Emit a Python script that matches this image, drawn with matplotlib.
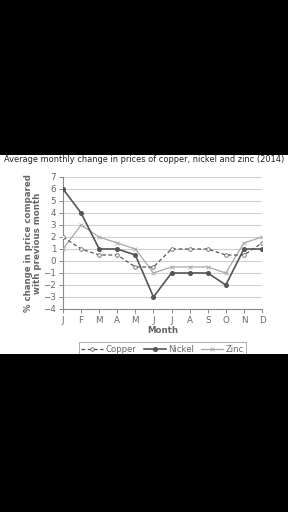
import matplotlib
matplotlib.use("Agg")
import matplotlib.pyplot as plt
from matplotlib.patches import Rectangle

months = ["J", "F", "M", "A", "M", "J", "J", "A", "S", "O", "N", "D"]
copper = [2, 1, 0.5, 0.5, -0.5, -0.5, 1, 1, 1, 0.5, 0.5, 1.5]
nickel = [6, 4, 1, 1, 0.5, -3, -1, -1, -1, -2, 1, 1]
zinc = [1, 3, 2, 1.5, 1, -1, -0.5, -0.5, -0.5, -1, 1.5, 2]
yticks = list(range(-4, 8))

W, H = 288, 512
fig = plt.figure(figsize=(W / 100, H / 100), dpi=100)
fig.patch.set_facecolor("white")

ax = fig.add_axes([63 / W, 1 - 309 / H, 199 / W, 132 / H])
x = list(range(len(months)))
tc = "#666666"

ax.plot(x, zinc, color="#a8a8a8", lw=0.9, marker="x", ms=2.5, mew=0.6, label="Zinc", zorder=3)
ax.plot(x, copper, color="#555555", lw=0.9, ls=(0, (3, 2)), marker="o", ms=2.6, mfc="white",
        mec="#666666", mew=0.6, label="Copper", zorder=4)
ax.plot(x, nickel, color="#555555", lw=1.2, marker="o", ms=2.6, mfc="#555555", mec="#555555",
        label="Nickel", zorder=5)

ax.set_xlim(0, 11)
ax.set_ylim(-4, 7)
ax.set_yticks(yticks)
ax.set_yticklabels([str(v) if v >= 0 else "\u2212" + str(-v) for v in yticks])
ax.set_xticks(x)
ax.set_xticklabels(months)
ax.grid(axis="y", color="#cfcfcf", lw=0.8)
ax.set_axisbelow(True)
for s in ["top", "right"]:
    ax.spines[s].set_visible(False)
for s in ["left", "bottom"]:
    ax.spines[s].set_color("#888888")
    ax.spines[s].set_linewidth(0.8)
ax.tick_params(colors="#888888", labelcolor=tc, labelsize=6.3, length=3, width=0.7, pad=2)

ax.set_ylabel("% change in price compared\nwith previous month", fontsize=6.2, fontweight="bold",
              color=tc, labelpad=1, linespacing=1.0)
ax.set_xlabel("Month", fontsize=6.2, fontweight="bold", color=tc, labelpad=1)

handles, labels = ax.get_legend_handles_labels()
order = [1, 2, 0]
leg = fig.legend([handles[i] for i in order], [labels[i] for i in order], loc="center",
                 bbox_to_anchor=(162.5 / W, 1 - 349 / H), ncol=3, fontsize=6.1,
                 frameon=True, fancybox=False, edgecolor="#888888", handlelength=2.6,
                 columnspacing=0.8, handletextpad=0.3, borderpad=0.25, labelcolor=tc)
leg.get_frame().set_linewidth(0.6)

fig.text(144 / W, 1 - 159 / H, "Average monthly change in prices of copper, nickel and zinc (2014)",
         ha="center", va="center", fontsize=5.95, color="#222222")

fig.patches.append(Rectangle((0, 1 - 155 / H), 1, 155 / H, transform=fig.transFigure,
                             facecolor="black", edgecolor="none", zorder=100))
fig.patches.append(Rectangle((0, 0), 1, 1 - 354 / H, transform=fig.transFigure,
                             facecolor="black", edgecolor="none", zorder=100))

fig.savefig("out.png", dpi=100, facecolor=fig.get_facecolor())
